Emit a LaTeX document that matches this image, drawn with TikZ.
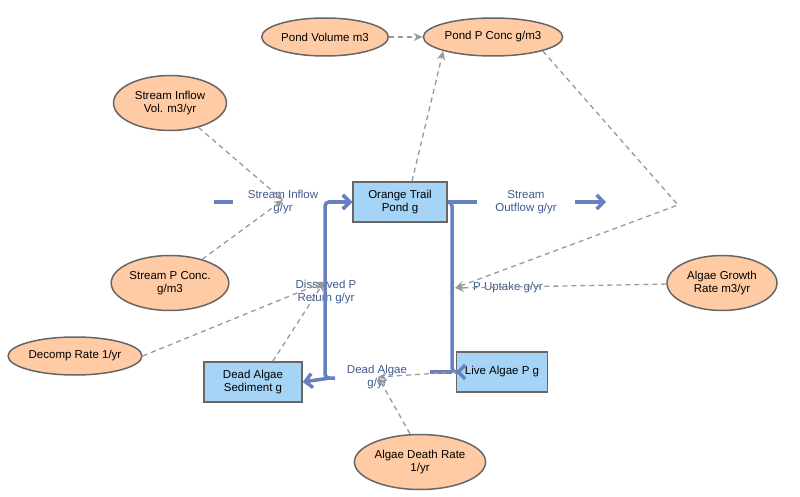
\documentclass[tikz,border=0pt]{standalone}
\usepackage{fontspec}
\setmainfont{Liberation Sans}
\usetikzlibrary{arrows.meta,shapes.geometric}
\definecolor{ell}{HTML}{FFCBA4}
\definecolor{box}{HTML}{A6D4F7}
\definecolor{flow}{HTML}{6680C0}
\definecolor{txt}{HTML}{3E5A8C}
\tikzset{
 aux/.style={ellipse,draw=black!60,fill=ell,line width=1.5pt,font=\fontsize{11.5}{13.5}\selectfont,align=center,inner sep=1pt},
 stock/.style={rectangle,draw=black!60,fill=box,line width=1.5pt,font=\fontsize{11.5}{13.5}\selectfont,align=center},
 fl/.style={draw=flow,line width=3.5pt},
 fla/.style={fl,-{Straight Barb[length=7pt,width=14pt]}},
 con/.style={draw=black!40,line width=1.3pt,dash pattern=on 5pt off 4pt,-{Stealth[length=9pt,width=8pt]}},
 lab/.style={text=txt,font=\fontsize{11.5}{13.5}\selectfont,align=center,inner sep=1pt}
}
\begin{document}
\begin{tikzpicture}[x=1pt,y=-1pt]
\useasboundingbox (0,0) rectangle (800,497);
% stocks
\node[stock,minimum width=94pt,minimum height=40pt] (ot) at (400,202) {Orange Trail\\Pond g};
\node[stock,minimum width=98pt,minimum height=40pt] (da) at (253,382) {Dead Algae\\Sediment g};
\node[stock,minimum width=91pt,minimum height=40pt] (la) at (502,372) {Live Algae P g};
% aux
\node[aux,minimum width=115pt,minimum height=38pt] (pv) at (325,37) {Pond Volume m3};
\node[aux,minimum width=115pt,minimum height=38pt] (pc) at (493,37) {Pond P Conc g/m3};
\node[aux,minimum width=113pt,minimum height=55pt] (siv) at (170,103) {Stream Inflow\\Vol. m3/yr};
\node[aux,minimum width=113pt,minimum height=55pt] (spc) at (170,283) {Stream P Conc.\\g/m3};
\node[aux,minimum width=115pt,minimum height=38pt] (dr) at (75,356) {Decomp Rate 1/yr};
\node[aux,minimum width=110pt,minimum height=55pt] (agr) at (722,283) {Algae Growth\\Rate m3/yr};
\node[aux,minimum width=115pt,minimum height=55pt] (adr) at (420,462) {Algae Death Rate\\1/yr};
% flow labels
\node[lab] (lsi) at (283,202) {Stream Inflow\\g/yr};
\node[lab] (lso) at (526,202) {Stream\\Outflow g/yr};
\node[lab] (lpu) at (508,288) {P Uptake g/yr};
\node[lab] (ldp) at (326,292) {Dissolved P\\Return g/yr};
\node[lab] (lda) at (377,377) {Dead Algae\\g/yr};
\coordinate (c1) at (678,205);
\coordinate (vi) at (283,200);
\coordinate (vd) at (324,282);
\coordinate (vu) at (455,288);
\coordinate (vda) at (378,377);
% flows
\draw[fl] (214,202) -- (233,202);
\draw[fla] (330,202) -- (ot.west);
\draw[fl] (ot.east) -- (477,202);
\draw[fla] (575,202) -- (606,202);
\draw[fla,rounded corners=4pt] (ot.east) -- (452,202) -- (452,372) -- (la.west);
\draw[fla,rounded corners=4pt] (335,378) -- (325,378) -- (325,202) -- (ot.west);
\draw[fla] (330,378) -- (da.east);
\draw[fl] (430,372) -- (452,372);
% connectors
\draw[con] (pv) -- (pc);
\draw[con] (ot.north) ++(12,0) -- (pc.south west);
\draw[con] (pc.south east) -- (c1) -- (vu);
\draw[con] (agr) -- (vu);
\draw[con] (siv) -- (vi);
\draw[con] (spc) -- (vi);
\draw[con] (dr.east) -- (vd);
\draw[con] (da.north east) ++(-30,0) -- (vd);
\draw[con] (la.west) -- (vda);
\draw[con] (adr.north) ++(-10,0) -- (vda);
\end{tikzpicture}
\end{document}
